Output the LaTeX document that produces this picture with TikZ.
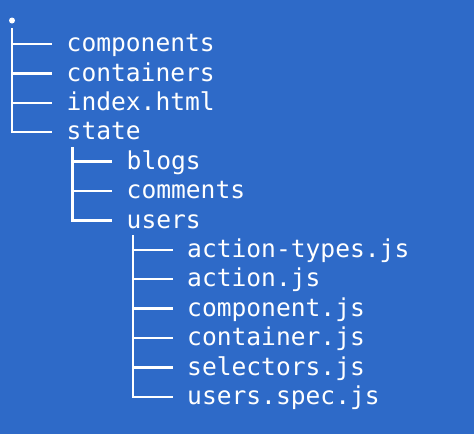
\documentclass[tikz,border=0pt]{standalone}
\usepackage{fontspec}
\setmonofont{DejaVu Sans Mono}
\definecolor{bg}{RGB}{46,106,200}
\begin{document}
\begin{tikzpicture}[x=1pt,y=-1pt,
  entry/.style={anchor=base west, inner sep=0pt, text=white,
    font=\ttfamily\fontsize{24.6}{28}\selectfont},
  branch/.style={draw=white, line width=2.5pt}]
\fill[bg] (0,0) rectangle (474,434);
\useasboundingbox (0,0) rectangle (474,434);
\node[circle, fill=white, inner sep=0pt, minimum size=6pt] (root) at (12,20.5) {};
% level 1
\node[entry] (components) at (66.5,51.7) {components};
\node[entry] (containers) at (66.5,81.1) {containers};
\node[entry] (index) at (66.5,110.5) {index.html};
\node[entry] (state) at (66.5,139.9) {state};
% level 2
\node[entry] (blogs) at (126.5,169.3) {blogs};
\node[entry] (comments) at (126.5,198.7) {comments};
\node[entry] (users) at (126.5,228.1) {users};
% level 3
\node[entry] (actiontypes) at (187,257.5) {action-types.js};
\node[entry] (action) at (187,286.9) {action.js};
\node[entry] (component) at (187,316.3) {component.js};
\node[entry] (container) at (187,345.7) {container.js};
\node[entry] (selectors) at (187,375.1) {selectors.js};
\node[entry] (usersspec) at (187,404.5) {users.spec.js};
% connector ends
\foreach \n in {components,containers,index,state,blogs,comments,users,actiontypes,action,component,container,selectors,usersspec}
  \coordinate (c-\n) at ([xshift=-14.5pt,yshift=7.7pt]\n.base west);
\coordinate (v-state) at ([xshift=6.2pt,yshift=-7pt]state.base west);
\coordinate (v-users) at ([xshift=6.5pt,yshift=-7pt]users.base west);
% level 1 branches
\draw[branch] ([yshift=-4.5pt]root.south) |- (c-state);
\foreach \n in {components,containers,index}
  \draw[branch] (root |- c-\n) -- (c-\n);
% level 2 branches
\draw[branch] (v-state) |- (c-users);
\foreach \n in {blogs,comments}
  \draw[branch] (v-state |- c-\n) -- (c-\n);
% level 3 branches
\draw[branch] (v-users) |- (c-usersspec);
\foreach \n in {actiontypes,action,component,container,selectors}
  \draw[branch] (v-users |- c-\n) -- (c-\n);
\end{tikzpicture}
\end{document}
